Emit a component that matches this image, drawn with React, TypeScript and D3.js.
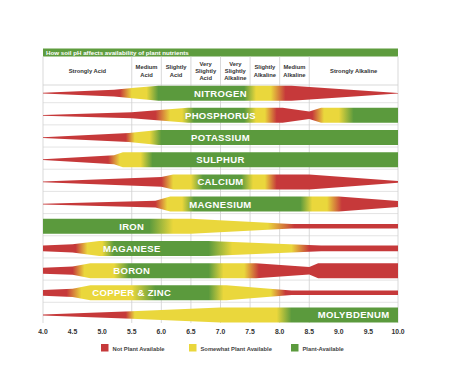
import React from "react";
import * as d3 from "d3";

const nutrients = ["NITROGEN","PHOSPHORUS","POTASSIUM","SULPHUR","CALCIUM","MAGNESIUM","IRON","MAGANESE","BORON","COPPER & ZINC","MOLYBDENUM"];
const labelPH = [7.0,7.0,7.0,7.0,7.0,7.0,5.5,5.5,5.5,5.5,9.25];

// thickness profile: [pH, fraction of full band thickness]
const widthProfiles: [number, number][][] = [
  [[4,0.05],[5.2,0.45],[5.55,0.72],[5.95,1],[8.2,1],[10,0.04]],
  [[4,0.05],[5.5,0.4],[6.45,1],[8.05,1],[8.5,0.5],[8.7,1],[10,1]],
  [[4,0.05],[5.45,0.6],[5.95,1],[10,1]],
  [[4,0.05],[5.2,0.6],[5.35,1],[10,1]],
  [[4,0.05],[6.0,0.65],[6.2,1],[8.5,1],[10,0.12]],
  [[4,0.05],[5.9,0.45],[6.15,1],[9.0,1],[10,0.4]],
  [[4,1],[6.5,1],[8.2,0.3],[10,0.3]],
  [[4,0.38],[4.5,0.55],[4.95,1],[6.8,1],[8.7,0.38],[10,0.38]],
  [[4,0.4],[4.5,0.55],[4.8,1],[7.6,1],[8.5,0.5],[8.65,1],[10,1]],
  [[4,0.38],[4.5,0.55],[4.8,1],[7.1,1],[8.2,0.3],[10,0.3]],
  [[4,0.06],[5.5,0.5],[7.0,1],[10,1]],
];

// availability zones: [pH, N = not, S = somewhat, P = plant-available]
const colorZones: [number, string][][] = [
  [[4,"N"],[5.3,"N"],[5.5,"S"],[5.75,"S"],[5.95,"P"],[7.4,"P"],[7.6,"S"],[7.85,"S"],[8.1,"N"],[10,"N"]],
  [[4,"N"],[5.9,"N"],[6.15,"S"],[6.35,"S"],[6.55,"P"],[7.4,"P"],[7.6,"S"],[7.75,"S"],[7.95,"N"],[8.55,"N"],[8.75,"S"],[9.0,"S"],[9.25,"P"],[10,"P"]],
  [[4,"N"],[5.4,"N"],[5.55,"S"],[5.8,"S"],[6.0,"P"],[10,"P"]],
  [[4,"N"],[5.1,"N"],[5.3,"S"],[5.65,"S"],[5.85,"P"],[10,"P"]],
  [[4,"N"],[6.0,"N"],[6.2,"S"],[6.5,"S"],[6.7,"P"],[7.35,"P"],[7.55,"S"],[7.75,"S"],[7.95,"N"],[10,"N"]],
  [[4,"N"],[5.9,"N"],[6.1,"S"],[6.35,"S"],[6.55,"P"],[8.35,"P"],[8.55,"S"],[8.8,"S"],[9.05,"N"],[10,"N"]],
  [[4,"P"],[5.8,"P"],[6.2,"S"],[7.8,"S"],[8.25,"N"],[10,"N"]],
  [[4,"N"],[4.55,"N"],[4.75,"S"],[5.0,"S"],[5.2,"P"],[6.8,"P"],[7.2,"S"],[8.2,"S"],[8.5,"N"],[10,"N"]],
  [[4,"N"],[4.5,"N"],[4.7,"S"],[5.2,"S"],[5.45,"P"],[6.8,"P"],[7.05,"S"],[7.4,"S"],[7.65,"N"],[10,"N"]],
  [[4,"N"],[4.4,"N"],[4.65,"S"],[5.5,"S"],[5.9,"P"],[6.8,"P"],[7.05,"S"],[7.85,"S"],[8.1,"N"],[10,"N"]],
  [[4,"N"],[5.4,"N"],[5.55,"S"],[7.95,"S"],[8.2,"P"],[10,"P"]],
];

const columnBounds = [4,5.5,6,6.5,7,7.5,8,8.5,10];
const columnLabels = [
  ["Strongly Acid"],["Medium","Acid"],["Slightly","Acid"],["Very","Slightly","Acid"],
  ["Very","Slightly","Alkaline"],["Slightly","Alkaline"],["Medium","Alkaline"],["Strongly Alkaline"],
];
const tickValues = [4,4.5,5,5.5,6,6.5,7,7.5,8,8.5,9,9.5,10];
const legendKeys = ["N","S","P"];
const legendLabels = ["Not Plant Available","Somewhat Plant Available","Plant-Available"];
const title = "How soil pH affects availability of plant nutrients";

const colors: Record<string,string> = { N: "#c6393a", S: "#ead73c", P: "#5b9a3d" };
const FONT = "'Liberation Sans', Arial, Helvetica, sans-serif";

export default function App() {
  const W = 474, H = 366;
  const x = d3.scaleLinear().domain([4,10]).range([43,398]);
  const y = d3.scaleBand<string>().domain(nutrients).range([82.1, 82.1 + 22.18*11]).paddingInner(0);
  const cy = (n: string) => (y(n) as number) + y.bandwidth()/2;
  const thick = d3.scaleLinear().domain([0,1]).range([0,15]);
  const fmt = d3.format(".1f");
  const legendX = [101, 189, 291];
  const plotBottom = cy(nutrients[nutrients.length-1]) + 8;

  return (
    <svg width={W} height={H} style={{display:"block", position:"absolute", left:0, top:0}} fontFamily={FONT}>
      <rect width={W} height={H} fill="#fff"/>
      <defs>
        {nutrients.map((n,i) => (
          <linearGradient key={n} id={`grad${i}`} gradientUnits="userSpaceOnUse" x1={x(4)} x2={x(10)} y1={0} y2={0}>
            {colorZones[i].map(([p,c],j) => (
              <stop key={j} offset={(x(p)-x(4))/(x(10)-x(4))} stopColor={colors[c]}/>
            ))}
          </linearGradient>
        ))}
      </defs>
      {/* title bar */}
      <rect x={x(4)} y={48.5} width={x(10)-x(4)} height={8} fill="#5e9c3e"/>
      <text x={x(4)+3} y={55} fontSize={6.2} fontWeight="bold" fill="#fff">{title}</text>
      {/* header labels */}
      {columnLabels.map((lines,i) => {
        const cx = (x(columnBounds[i]) + x(columnBounds[i+1]))/2;
        const lh = 7.3;
        const y0 = 71 - (lines.length-1)*lh/2 + 2;
        return (
          <text key={i} x={cx} textAnchor="middle" fontSize={5.8} fontWeight="bold" fill="#333">
            {lines.map((l,k) => <tspan key={k} x={cx} y={y0 + k*lh}>{l}</tspan>)}
          </text>
        );
      })}
      <line x1={x(4)} x2={x(10)} y1={85} y2={85} stroke="#cfcfcf" strokeWidth={0.8}/>
      {/* row lines */}
      {nutrients.slice(0,-1).map(n => (
        <line key={n} x1={x(4)} x2={x(10)} y1={cy(n)+9.5} y2={cy(n)+9.5} stroke="#dcdcdc" strokeWidth={0.8}/>
      ))}
      {/* vertical grid */}
      {columnBounds.map((b,i) => (
        <line key={i} x1={x(b)} x2={x(b)} y1={56.5} y2={plotBottom} stroke="#cfcfcf" strokeWidth={0.8}/>
      ))}
      {/* bands */}
      {nutrients.map((n,i) => {
        const c = cy(n);
        const area = d3.area<[number,number]>()
          .x(d => x(d[0]))
          .y0(d => c - thick(d[1])/2)
          .y1(d => c + thick(d[1])/2)
          .curve(d3.curveLinear);
        return <path key={n} d={area(widthProfiles[i]) || ""} fill={`url(#grad${i})`}/>;
      })}
      {nutrients.map((n,i) => (
        <text key={n} x={x(labelPH[i])} y={cy(n)+3.5} textAnchor="middle" fontSize={9.5} fontWeight="bold"
          fill="#fff" letterSpacing={0.35}>{n}</text>
      ))}
      {/* ticks */}
      {tickValues.map(t => (
        <text key={t} x={x(t)} y={333.5} textAnchor="middle" fontSize={6.8} fontWeight="bold" fill="#333">{fmt(t)}</text>
      ))}
      {/* legend */}
      {legendKeys.map((k,i) => (
        <g key={k}>
          <rect x={legendX[i]} y={344} width={7.5} height={7.5} fill={colors[k]}/>
          <text x={legendX[i]+11.5} y={350.5} fontSize={5.8} fontWeight="bold" fill="#444">{legendLabels[i]}</text>
        </g>
      ))}
    </svg>
  );
}
